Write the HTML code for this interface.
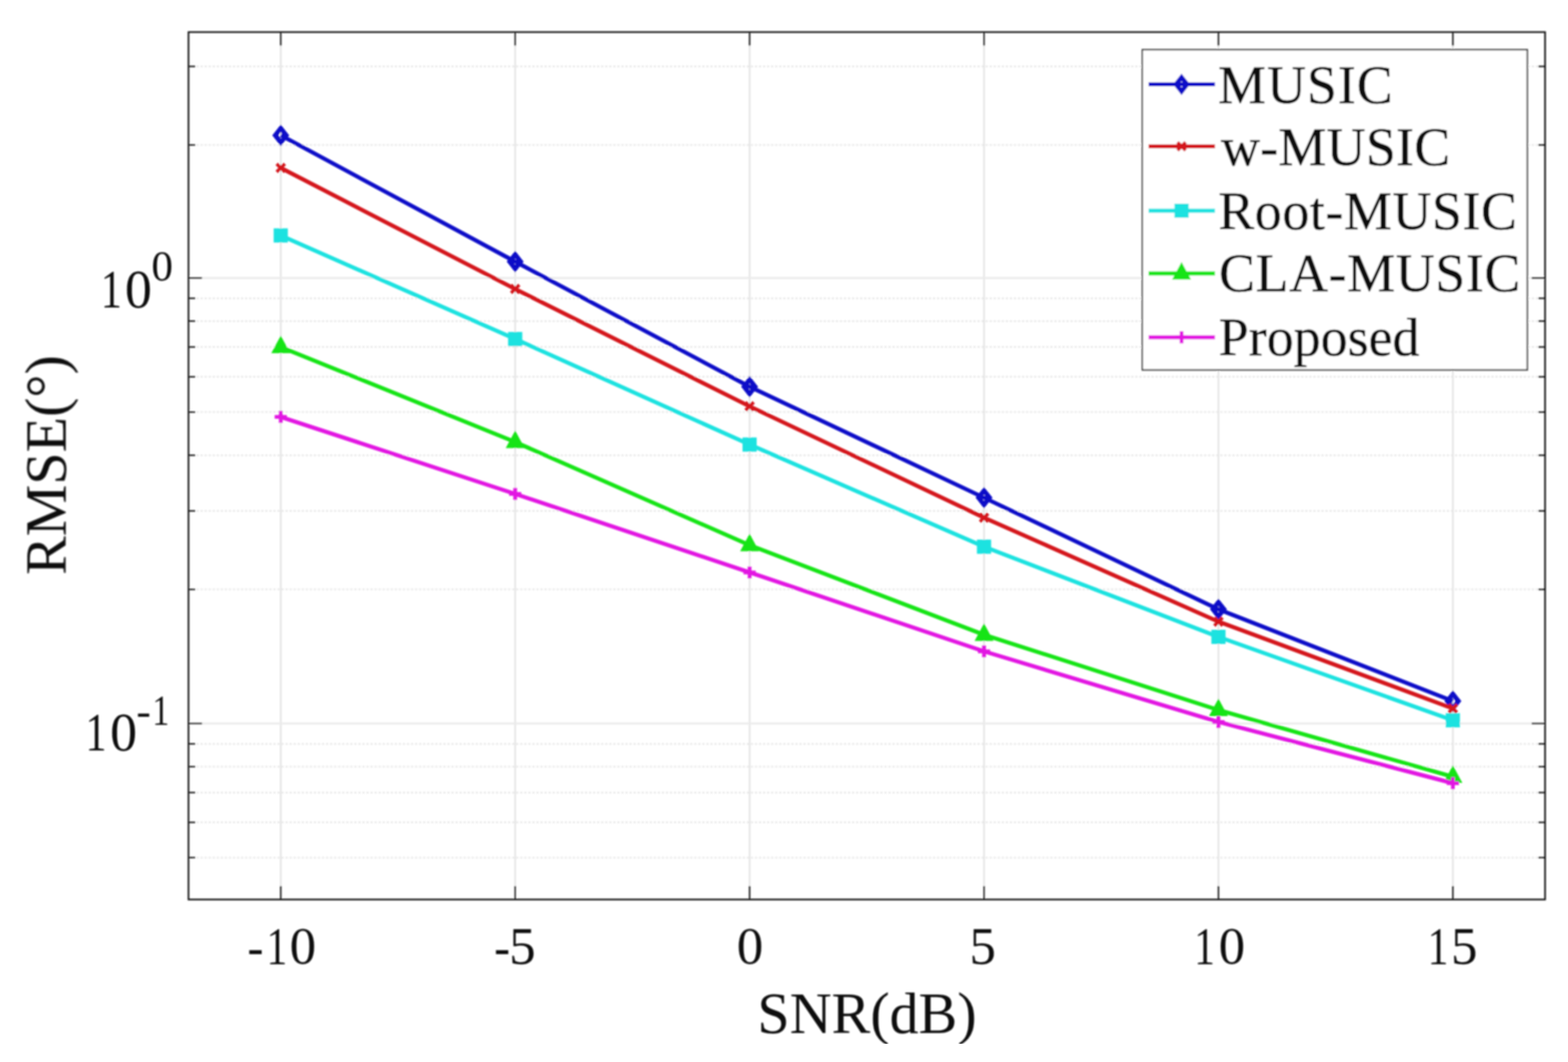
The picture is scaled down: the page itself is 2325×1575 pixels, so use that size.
<!DOCTYPE html><html><head><meta charset="utf-8"><title>RMSE vs SNR</title><style>html,body{margin:0;padding:0;background:#fff;}body{width:2325px;height:1575px;overflow:hidden;}svg{display:block;}text{font-family:"Liberation Serif","Times New Roman",serif;fill:#0d0d0d;}</style></head><body><svg width="2325" height="1575" viewBox="0 0 2325 1575"><rect x="0" y="0" width="2325" height="1575" fill="#fff"/><defs><filter id="soft" x="0" y="0" width="2325" height="1575" filterUnits="userSpaceOnUse"><feGaussianBlur stdDeviation="1.0"/></filter><clipPath id="pg"><rect x="0" y="0" width="2325" height="1547.5"/></clipPath><clipPath id="ax"><rect x="279.5" y="47.6" width="2011.5" height="1286.4"/></clipPath></defs><g clip-path="url(#pg)"><g filter="url(#soft)"><g><line x1="416.3" y1="47.6" x2="416.3" y2="1334.0" stroke="#e4e4e4" stroke-width="2.5"/><line x1="763.9" y1="47.6" x2="763.9" y2="1334.0" stroke="#e4e4e4" stroke-width="2.5"/><line x1="1111.5" y1="47.6" x2="1111.5" y2="1334.0" stroke="#e4e4e4" stroke-width="2.5"/><line x1="1459.1" y1="47.6" x2="1459.1" y2="1334.0" stroke="#e4e4e4" stroke-width="2.5"/><line x1="1806.7" y1="47.6" x2="1806.7" y2="1334.0" stroke="#e4e4e4" stroke-width="2.5"/><line x1="2154.3" y1="47.6" x2="2154.3" y2="1334.0" stroke="#e4e4e4" stroke-width="2.5"/><line x1="279.5" y1="412.2" x2="2291.0" y2="412.2" stroke="#ebebeb" stroke-width="3"/><line x1="279.5" y1="1073.0" x2="2291.0" y2="1073.0" stroke="#ebebeb" stroke-width="3"/><line x1="279.5" y1="98.5" x2="2291.0" y2="98.5" stroke="#e6e6e6" stroke-width="2.5" stroke-dasharray="3 3"/><line x1="279.5" y1="215.0" x2="2291.0" y2="215.0" stroke="#e6e6e6" stroke-width="2.5" stroke-dasharray="3 3"/><line x1="279.5" y1="442.4" x2="2291.0" y2="442.4" stroke="#e6e6e6" stroke-width="2.5" stroke-dasharray="3 3"/><line x1="279.5" y1="476.2" x2="2291.0" y2="476.2" stroke="#e6e6e6" stroke-width="2.5" stroke-dasharray="3 3"/><line x1="279.5" y1="514.6" x2="2291.0" y2="514.6" stroke="#e6e6e6" stroke-width="2.5" stroke-dasharray="3 3"/><line x1="279.5" y1="558.8" x2="2291.0" y2="558.8" stroke="#e6e6e6" stroke-width="2.5" stroke-dasharray="3 3"/><line x1="279.5" y1="611.1" x2="2291.0" y2="611.1" stroke="#e6e6e6" stroke-width="2.5" stroke-dasharray="3 3"/><line x1="279.5" y1="675.2" x2="2291.0" y2="675.2" stroke="#e6e6e6" stroke-width="2.5" stroke-dasharray="3 3"/><line x1="279.5" y1="757.7" x2="2291.0" y2="757.7" stroke="#e6e6e6" stroke-width="2.5" stroke-dasharray="3 3"/><line x1="279.5" y1="874.1" x2="2291.0" y2="874.1" stroke="#e6e6e6" stroke-width="2.5" stroke-dasharray="3 3"/><line x1="279.5" y1="1103.2" x2="2291.0" y2="1103.2" stroke="#e6e6e6" stroke-width="2.5" stroke-dasharray="3 3"/><line x1="279.5" y1="1137.0" x2="2291.0" y2="1137.0" stroke="#e6e6e6" stroke-width="2.5" stroke-dasharray="3 3"/><line x1="279.5" y1="1175.4" x2="2291.0" y2="1175.4" stroke="#e6e6e6" stroke-width="2.5" stroke-dasharray="3 3"/><line x1="279.5" y1="1219.6" x2="2291.0" y2="1219.6" stroke="#e6e6e6" stroke-width="2.5" stroke-dasharray="3 3"/><line x1="279.5" y1="1271.9" x2="2291.0" y2="1271.9" stroke="#e6e6e6" stroke-width="2.5" stroke-dasharray="3 3"/></g><g><line x1="416.3" y1="1334.0" x2="416.3" y2="1314.0" stroke="#1a1a1a" stroke-width="2.3"/><line x1="416.3" y1="47.6" x2="416.3" y2="67.6" stroke="#1a1a1a" stroke-width="2.3"/><line x1="763.9" y1="1334.0" x2="763.9" y2="1314.0" stroke="#1a1a1a" stroke-width="2.3"/><line x1="763.9" y1="47.6" x2="763.9" y2="67.6" stroke="#1a1a1a" stroke-width="2.3"/><line x1="1111.5" y1="1334.0" x2="1111.5" y2="1314.0" stroke="#1a1a1a" stroke-width="2.3"/><line x1="1111.5" y1="47.6" x2="1111.5" y2="67.6" stroke="#1a1a1a" stroke-width="2.3"/><line x1="1459.1" y1="1334.0" x2="1459.1" y2="1314.0" stroke="#1a1a1a" stroke-width="2.3"/><line x1="1459.1" y1="47.6" x2="1459.1" y2="67.6" stroke="#1a1a1a" stroke-width="2.3"/><line x1="1806.7" y1="1334.0" x2="1806.7" y2="1314.0" stroke="#1a1a1a" stroke-width="2.3"/><line x1="1806.7" y1="47.6" x2="1806.7" y2="67.6" stroke="#1a1a1a" stroke-width="2.3"/><line x1="2154.3" y1="1334.0" x2="2154.3" y2="1314.0" stroke="#1a1a1a" stroke-width="2.3"/><line x1="2154.3" y1="47.6" x2="2154.3" y2="67.6" stroke="#1a1a1a" stroke-width="2.3"/><line x1="279.5" y1="412.2" x2="299.5" y2="412.2" stroke="#1a1a1a" stroke-width="2.3"/><line x1="2291.0" y1="412.2" x2="2271.0" y2="412.2" stroke="#1a1a1a" stroke-width="2.3"/><line x1="279.5" y1="1073.0" x2="299.5" y2="1073.0" stroke="#1a1a1a" stroke-width="2.3"/><line x1="2291.0" y1="1073.0" x2="2271.0" y2="1073.0" stroke="#1a1a1a" stroke-width="2.3"/><line x1="279.5" y1="98.5" x2="289.5" y2="98.5" stroke="#1a1a1a" stroke-width="2.3"/><line x1="2291.0" y1="98.5" x2="2281.0" y2="98.5" stroke="#1a1a1a" stroke-width="2.3"/><line x1="279.5" y1="215.0" x2="289.5" y2="215.0" stroke="#1a1a1a" stroke-width="2.3"/><line x1="2291.0" y1="215.0" x2="2281.0" y2="215.0" stroke="#1a1a1a" stroke-width="2.3"/><line x1="279.5" y1="442.4" x2="289.5" y2="442.4" stroke="#1a1a1a" stroke-width="2.3"/><line x1="2291.0" y1="442.4" x2="2281.0" y2="442.4" stroke="#1a1a1a" stroke-width="2.3"/><line x1="279.5" y1="476.2" x2="289.5" y2="476.2" stroke="#1a1a1a" stroke-width="2.3"/><line x1="2291.0" y1="476.2" x2="2281.0" y2="476.2" stroke="#1a1a1a" stroke-width="2.3"/><line x1="279.5" y1="514.6" x2="289.5" y2="514.6" stroke="#1a1a1a" stroke-width="2.3"/><line x1="2291.0" y1="514.6" x2="2281.0" y2="514.6" stroke="#1a1a1a" stroke-width="2.3"/><line x1="279.5" y1="558.8" x2="289.5" y2="558.8" stroke="#1a1a1a" stroke-width="2.3"/><line x1="2291.0" y1="558.8" x2="2281.0" y2="558.8" stroke="#1a1a1a" stroke-width="2.3"/><line x1="279.5" y1="611.1" x2="289.5" y2="611.1" stroke="#1a1a1a" stroke-width="2.3"/><line x1="2291.0" y1="611.1" x2="2281.0" y2="611.1" stroke="#1a1a1a" stroke-width="2.3"/><line x1="279.5" y1="675.2" x2="289.5" y2="675.2" stroke="#1a1a1a" stroke-width="2.3"/><line x1="2291.0" y1="675.2" x2="2281.0" y2="675.2" stroke="#1a1a1a" stroke-width="2.3"/><line x1="279.5" y1="757.7" x2="289.5" y2="757.7" stroke="#1a1a1a" stroke-width="2.3"/><line x1="2291.0" y1="757.7" x2="2281.0" y2="757.7" stroke="#1a1a1a" stroke-width="2.3"/><line x1="279.5" y1="874.1" x2="289.5" y2="874.1" stroke="#1a1a1a" stroke-width="2.3"/><line x1="2291.0" y1="874.1" x2="2281.0" y2="874.1" stroke="#1a1a1a" stroke-width="2.3"/><line x1="279.5" y1="1103.2" x2="289.5" y2="1103.2" stroke="#1a1a1a" stroke-width="2.3"/><line x1="2291.0" y1="1103.2" x2="2281.0" y2="1103.2" stroke="#1a1a1a" stroke-width="2.3"/><line x1="279.5" y1="1137.0" x2="289.5" y2="1137.0" stroke="#1a1a1a" stroke-width="2.3"/><line x1="2291.0" y1="1137.0" x2="2281.0" y2="1137.0" stroke="#1a1a1a" stroke-width="2.3"/><line x1="279.5" y1="1175.4" x2="289.5" y2="1175.4" stroke="#1a1a1a" stroke-width="2.3"/><line x1="2291.0" y1="1175.4" x2="2281.0" y2="1175.4" stroke="#1a1a1a" stroke-width="2.3"/><line x1="279.5" y1="1219.6" x2="289.5" y2="1219.6" stroke="#1a1a1a" stroke-width="2.3"/><line x1="2291.0" y1="1219.6" x2="2281.0" y2="1219.6" stroke="#1a1a1a" stroke-width="2.3"/><line x1="279.5" y1="1271.9" x2="289.5" y2="1271.9" stroke="#1a1a1a" stroke-width="2.3"/><line x1="2291.0" y1="1271.9" x2="2281.0" y2="1271.9" stroke="#1a1a1a" stroke-width="2.3"/></g><g><polyline points="416.3,200.7 763.9,388.0 1111.5,573.5 1459.1,738.1 1806.7,903.6 2154.3,1039.8" fill="none" stroke="#0a0ac8" stroke-width="6.0" stroke-linejoin="round"/><path d="M416.3 190.4L424.4 200.7L416.3 211.0L408.2 200.7Z" fill="none" stroke="#0a0ac8" stroke-width="7" stroke-linejoin="miter"/><path d="M763.9 377.7L772.0 388.0L763.9 398.3L755.8 388.0Z" fill="none" stroke="#0a0ac8" stroke-width="7" stroke-linejoin="miter"/><path d="M1111.5 563.2L1119.6 573.5L1111.5 583.8L1103.4 573.5Z" fill="none" stroke="#0a0ac8" stroke-width="7" stroke-linejoin="miter"/><path d="M1459.1 727.8L1467.2 738.1L1459.1 748.4L1451.0 738.1Z" fill="none" stroke="#0a0ac8" stroke-width="7" stroke-linejoin="miter"/><path d="M1806.7 893.3L1814.8 903.6L1806.7 913.9L1798.6 903.6Z" fill="none" stroke="#0a0ac8" stroke-width="7" stroke-linejoin="miter"/><path d="M2154.3 1029.5L2162.4 1039.8L2154.3 1050.1L2146.2 1039.8Z" fill="none" stroke="#0a0ac8" stroke-width="7" stroke-linejoin="miter"/><polyline points="416.3,249.0 763.9,428.6 1111.5,602.6 1459.1,767.7 1806.7,921.9 2154.3,1050.7" fill="none" stroke="#d4141c" stroke-width="6.0" stroke-linejoin="round"/><path d="M410.3 243.0L422.3 255.0M410.3 255.0L422.3 243.0" fill="none" stroke="#d4141c" stroke-width="5"/><path d="M757.9 422.6L769.9 434.6M757.9 434.6L769.9 422.6" fill="none" stroke="#d4141c" stroke-width="5"/><path d="M1105.5 596.6L1117.5 608.6M1105.5 608.6L1117.5 596.6" fill="none" stroke="#d4141c" stroke-width="5"/><path d="M1453.1 761.7L1465.1 773.7M1453.1 773.7L1465.1 761.7" fill="none" stroke="#d4141c" stroke-width="5"/><path d="M1800.7 915.9L1812.7 927.9M1800.7 927.9L1812.7 915.9" fill="none" stroke="#d4141c" stroke-width="5"/><path d="M2148.3 1044.7L2160.3 1056.7M2148.3 1056.7L2160.3 1044.7" fill="none" stroke="#d4141c" stroke-width="5"/><polyline points="416.3,349.2 763.9,502.8 1111.5,659.3 1459.1,810.8 1806.7,944.5 2154.3,1068.2" fill="none" stroke="#1ee2e0" stroke-width="6.0" stroke-linejoin="round"/><rect x="405.8" y="338.7" width="21.0" height="21.0" fill="#1ee2e0"/><rect x="753.4" y="492.3" width="21.0" height="21.0" fill="#1ee2e0"/><rect x="1101.0" y="648.8" width="21.0" height="21.0" fill="#1ee2e0"/><rect x="1448.6" y="800.3" width="21.0" height="21.0" fill="#1ee2e0"/><rect x="1796.2" y="934.0" width="21.0" height="21.0" fill="#1ee2e0"/><rect x="2143.8" y="1057.7" width="21.0" height="21.0" fill="#1ee2e0"/><polyline points="416.3,514.7 763.9,655.5 1111.5,808.5 1459.1,941.4 1806.7,1053.0 2154.3,1152.0" fill="none" stroke="#18e418" stroke-width="6.0" stroke-linejoin="round"/><path d="M416.3 497.7L430.3 523.7L402.3 523.7Z" fill="#18e418"/><path d="M763.9 638.5L777.9 664.5L749.9 664.5Z" fill="#18e418"/><path d="M1111.5 791.5L1125.5 817.5L1097.5 817.5Z" fill="#18e418"/><path d="M1459.1 924.4L1473.1 950.4L1445.1 950.4Z" fill="#18e418"/><path d="M1806.7 1036.0L1820.7 1062.0L1792.7 1062.0Z" fill="#18e418"/><path d="M2154.3 1135.0L2168.3 1161.0L2140.3 1161.0Z" fill="#18e418"/><polyline points="416.3,618.3 763.9,732.5 1111.5,848.9 1459.1,966.0 1806.7,1070.7 2154.3,1161.5" fill="none" stroke="#e212e2" stroke-width="6.0" stroke-linejoin="round"/><path d="M407.3 618.3L425.3 618.3M416.3 609.3L416.3 627.3" fill="none" stroke="#e212e2" stroke-width="5.5"/><path d="M754.9 732.5L772.9 732.5M763.9 723.5L763.9 741.5" fill="none" stroke="#e212e2" stroke-width="5.5"/><path d="M1102.5 848.9L1120.5 848.9M1111.5 839.9L1111.5 857.9" fill="none" stroke="#e212e2" stroke-width="5.5"/><path d="M1450.1 966.0L1468.1 966.0M1459.1 957.0L1459.1 975.0" fill="none" stroke="#e212e2" stroke-width="5.5"/><path d="M1797.7 1070.7L1815.7 1070.7M1806.7 1061.7L1806.7 1079.7" fill="none" stroke="#e212e2" stroke-width="5.5"/><path d="M2145.3 1161.5L2163.3 1161.5M2154.3 1152.5L2154.3 1170.5" fill="none" stroke="#e212e2" stroke-width="5.5"/></g><rect x="279.5" y="47.6" width="2011.5" height="1286.4" fill="none" stroke="#111" stroke-width="2.4"/><g><rect x="1693.9" y="73.7" width="570.7" height="474.9" fill="#fff" stroke="#222" stroke-width="2"/><line x1="1703" y1="125.1" x2="1801.5" y2="125.1" stroke="#0a0ac8" stroke-width="6.0"/><path d="M1752.0 114.8L1760.1 125.1L1752.0 135.4L1743.9 125.1Z" fill="none" stroke="#0a0ac8" stroke-width="7" stroke-linejoin="miter"/><text x="1806.1" y="153.0" font-size="80" letter-spacing="1.4" stroke="#0d0d0d" stroke-width="0.6">MUSIC</text><line x1="1703" y1="217.1" x2="1801.5" y2="217.1" stroke="#d4141c" stroke-width="6.0"/><path d="M1746.0 211.1L1758.0 223.1M1746.0 223.1L1758.0 211.1" fill="none" stroke="#d4141c" stroke-width="5"/><text x="1810.5" y="244.9" font-size="80" letter-spacing="0.33" stroke="#0d0d0d" stroke-width="0.6">w-MUSIC</text><line x1="1703" y1="312.5" x2="1801.5" y2="312.5" stroke="#1ee2e0" stroke-width="6.0"/><rect x="1741.5" y="302.0" width="21.0" height="21.0" fill="#1ee2e0"/><text x="1806.4" y="340.3" font-size="80" letter-spacing="0.82" stroke="#0d0d0d" stroke-width="0.6">Root-MUSIC</text><line x1="1703" y1="405.6" x2="1801.5" y2="405.6" stroke="#18e418" stroke-width="6.0"/><path d="M1752.0 388.6L1766.0 414.6L1738.0 414.6Z" fill="#18e418"/><text x="1807.6" y="432.3" font-size="80" letter-spacing="0.83" stroke="#0d0d0d" stroke-width="0.6">CLA-MUSIC</text><line x1="1703" y1="500.2" x2="1801.5" y2="500.2" stroke="#e212e2" stroke-width="6.0"/><path d="M1743.0 500.2L1761.0 500.2M1752.0 491.2L1752.0 509.2" fill="none" stroke="#e212e2" stroke-width="5.5"/><text x="1807.0" y="526.7" font-size="80" letter-spacing="0.0" stroke="#0d0d0d" stroke-width="0.6">Proposed</text></g><g><text transform="translate(378.70 1431.2) scale(0.9 1)" x="-13.11" y="0" font-size="78.5">-</text><text transform="translate(411.40 1429.4) scale(0.78 1)" x="-20.72" y="0" font-size="78.5">1</text><text x="429.52" y="1429.4" font-size="78.5">0</text><text transform="translate(744.65 1431.2) scale(0.9 1)" x="-13.11" y="0" font-size="78.5">-</text><text x="754.93" y="1429.4" font-size="78.5">5</text><text x="1092.38" y="1429.4" font-size="78.5">0</text><text x="1437.48" y="1429.4" font-size="78.5">5</text><text transform="translate(1786.80 1429.4) scale(0.78 1)" x="-20.72" y="0" font-size="78.5">1</text><text x="1806.92" y="1429.4" font-size="78.5">0</text><text transform="translate(2133.10 1429.4) scale(0.78 1)" x="-20.72" y="0" font-size="78.5">1</text><text x="2151.43" y="1429.4" font-size="78.5">5</text><text transform="translate(166.00 455.9) scale(0.78 1)" x="-21.11" y="0" font-size="80">1</text><text x="185.20" y="455.9" font-size="80">0</text><text x="224.45" y="416.1" font-size="64">0</text><text transform="translate(143.30 1113.3) scale(0.78 1)" x="-21.11" y="0" font-size="80">1</text><text x="163.35" y="1113.3" font-size="80">0</text><text x="202.16" y="1075.8" font-size="64">-</text><text transform="translate(239.20 1075) scale(0.78 1)" x="-16.89" y="0" font-size="64">1</text></g><text x="1123.1" y="1531.5" font-size="86">SNR(dB)</text><text transform="translate(97.5 852.6) rotate(-90)" font-size="86">RMSE(&#176;)</text></g></g></svg></body></html>
